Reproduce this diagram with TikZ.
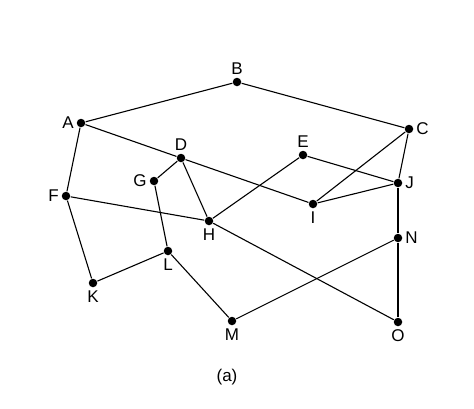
\documentclass[tikz,border=0pt]{standalone}
\usepackage{fontspec}
\setmainfont{Liberation Sans}
\usetikzlibrary{arrows}

\begin{document}
\begin{tikzpicture}[x=1pt,y=-1pt,line width=1.1pt,
	vert/.style={circle,fill,inner sep=0pt,minimum size=8.5pt},
	every label/.style={font=\fontsize{17}{20}\selectfont,inner sep=1pt},
	label distance=1pt]
	\useasboundingbox (0,0) rectangle (474,408);
	\node[vert,label=above:B](B) at (237,82){};
	\node[vert,label=left:A](A) at (81,123){};
	\node[vert,label=right:C](C) at (409,129){};
	\node[vert,label=above:D](D) at (181,158){};
	\node[vert,label=above:E](E) at (303,155){};
	\node[vert,label=left:G](G) at (154,181){};
	\node[vert,label=right:J](J) at (398,183){};
	\node[vert,label=left:F](F) at (66,196){};
	\node[vert,label=below:I](I) at (313,204){};
	\node[vert,label=below:H](H) at (209,221){};
	\node[vert,label=right:N](N) at (398,238){};
	\node[vert,label=below:L](L) at (168,251){};
	\node[vert,label=below:K](K) at (93,283){};
	\node[vert,label=below:M](M) at (232,321){};
	\node[vert,label=below:O](O) at (398,322){};
	\node[font=\fontsize{17}{20}\selectfont](cap) at (227,377){(a)};

	\path[draw] (A) edge (B)
		  edge (D)
		  edge (F)
		(B) edge (C)
		(C) edge (J)
		    edge (I)
		(D) edge (I)
		    edge (G)
		    edge (H)
		(E) edge (J)
		    edge (H)
		(I) edge (J)
		(F) edge (H)
		    edge (K)
		(K) edge (L)
		(G) edge (L)
		(H) edge (O)
		(L) edge (M)
		(M) edge (N)
		(J) edge (N)
		(N) edge (O);
\end{tikzpicture}
\end{document}
